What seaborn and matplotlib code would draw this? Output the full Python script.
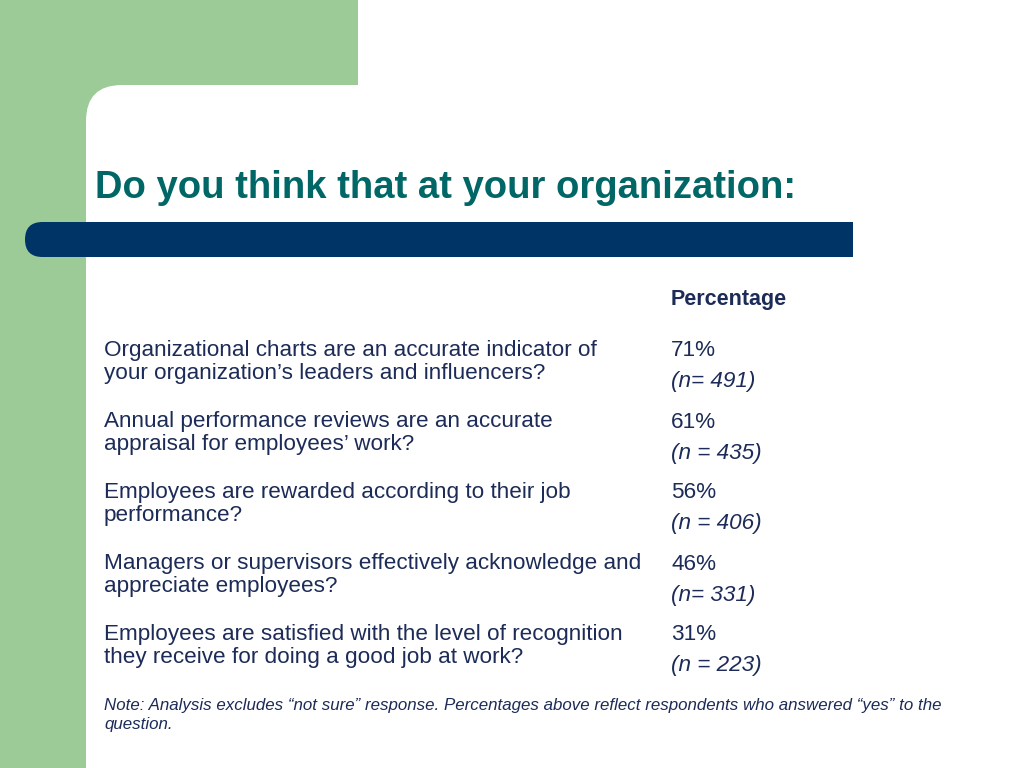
import matplotlib as mpl
mpl.use('AGG')
import matplotlib.pyplot as plt
from matplotlib.patches import Rectangle, FancyBboxPatch
import seaborn as sns

sns.set_theme(style='white')
plt.rcParams['font.family'] = ['Liberation Sans', 'DejaVu Sans']

title = 'Do you think that at your organization:'
questions = [
    'Organizational charts are an accurate indicator of\nyour organization\u2019s leaders and influencers?',
    'Annual performance reviews are an accurate\nappraisal for employees\u2019 work?',
    'Employees are rewarded according to their job\nperformance?',
    'Managers or supervisors effectively acknowledge and\nappreciate employees?',
    'Employees are satisfied with the level of recognition\nthey receive for doing a good job at work?',
]
percentages = ['71%', '61%', '56%', '46%', '31%']
n_labels = ['(n= 491)', '(n = 435)', '(n = 406)', '(n= 331)', '(n = 223)']
note = ('Note: Analysis excludes \u201cnot sure\u201d response. Percentages above reflect respondents who answered \u201cyes\u201d to the\nquestion.')

green = '#9dcb98'
navy = '#003366'
teal = '#006666'
text_col = '#1c2b57'

f = plt.figure(figsize=(10.24, 7.68), dpi=100)
ax = f.add_axes([0, 0, 1, 1])
ax.set_xlim(0, 1024)
ax.set_ylim(768, 0)
ax.set_axis_off()

# background shapes
ax.add_patch(Rectangle((0, 0), 358, 140, fc=green, lw=0, zorder=0))
ax.add_patch(Rectangle((0, 0), 86, 768, fc=green, lw=0, zorder=0))
ax.add_patch(FancyBboxPatch((86, 85), 1000, 800, boxstyle='round,pad=0,rounding_size=36',
                            fc='white', ec='none', zorder=1))
ax.add_patch(FancyBboxPatch((25, 222), 700, 35, boxstyle='round,pad=0,rounding_size=17.5',
                            fc=navy, ec='none', zorder=2))
ax.add_patch(Rectangle((60, 222), 793, 35, fc=navy, lw=0, zorder=2))

ax.text(95, 188, title, fontsize=27.5, fontweight='bold', color=teal, va='center', zorder=3)
ax.text(671, 299, 'Percentage', fontsize=15.5, fontweight='bold', color=text_col, va='center', zorder=3)

for i, (q, p, n) in enumerate(zip(questions, percentages, n_labels)):
    y = 351 + 71 * i
    ax.text(104, y - 11, q, fontsize=16.2, color=text_col, va='top', linespacing=1.12, zorder=3)
    ax.text(671, y, p, fontsize=16.2, color=text_col, va='center', zorder=3)
    ax.text(671, y + 31, n, fontsize=16.2, color=text_col, style='italic', va='center', zorder=3)

ax.text(104, 698, note, fontsize=12.2, color=text_col, style='italic', va='top', linespacing=1.3, zorder=3)

f.savefig('out.png', dpi=100)
